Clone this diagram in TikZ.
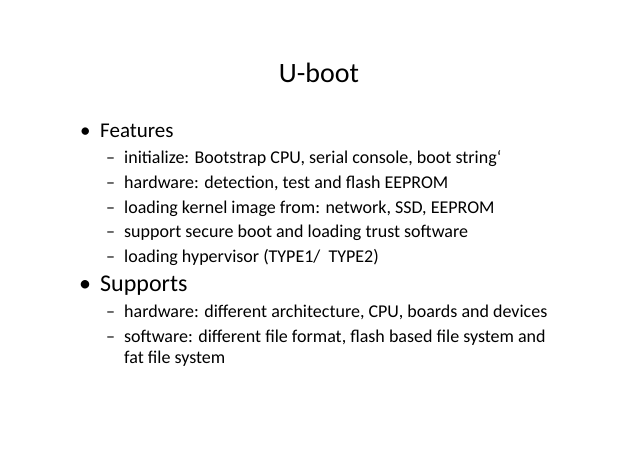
\documentclass[tikz,border=0pt]{standalone}
\usepackage{fontspec}
\setmainfont{Carlito}
\begin{document}
\begin{tikzpicture}[x=1pt,y=-1pt,
 txt/.style={anchor=base west,inner sep=0pt},
 sub/.style={txt,font=\fontsize{18}{21}\selectfont},
 dsh/.style={anchor=base west,inner sep=0pt,font=\fontsize{18}{21}\selectfont}]
\useasboundingbox (0,0) rectangle (638,451);
\node[anchor=base,inner sep=0pt,font=\fontsize{28}{30}\selectfont] (t) at (319,82) {U-boot};
\node[txt,font=\fontsize{21}{24}\selectfont] (fb) at (80,137) {•};
\node[txt,font=\fontsize{21}{24}\selectfont] (f) at (100,137) {Features};
\foreach \n/\y/\s in {a1/163/{initialize: Bootstrap CPU, serial console, boot string`},
 a2/188/{hardware: detection, test and flash EEPROM},
 a3/213/{loading kernel image from: network, SSD, EEPROM},
 a4/237/{support secure boot and loading trust software},
 a5/262/{loading hypervisor (TYPE1/\ \ TYPE2)},
 b1/317/{hardware: different architecture, CPU, boards and devices},
 b2/342/{software: different file format, flash based file system and}}{
 \node[dsh] (\n d) at (106,\y) {–};
 \node[sub] (\n) at (124,\y) {\s};
}
\node[txt,font=\fontsize{24}{27}\selectfont] (sb) at (79,291) {•};
\node[txt,font=\fontsize{24}{27}\selectfont] (s) at (100,291) {Supports};
\node[sub] (b3) at (124,363) {fat file system};
\end{tikzpicture}
\end{document}
